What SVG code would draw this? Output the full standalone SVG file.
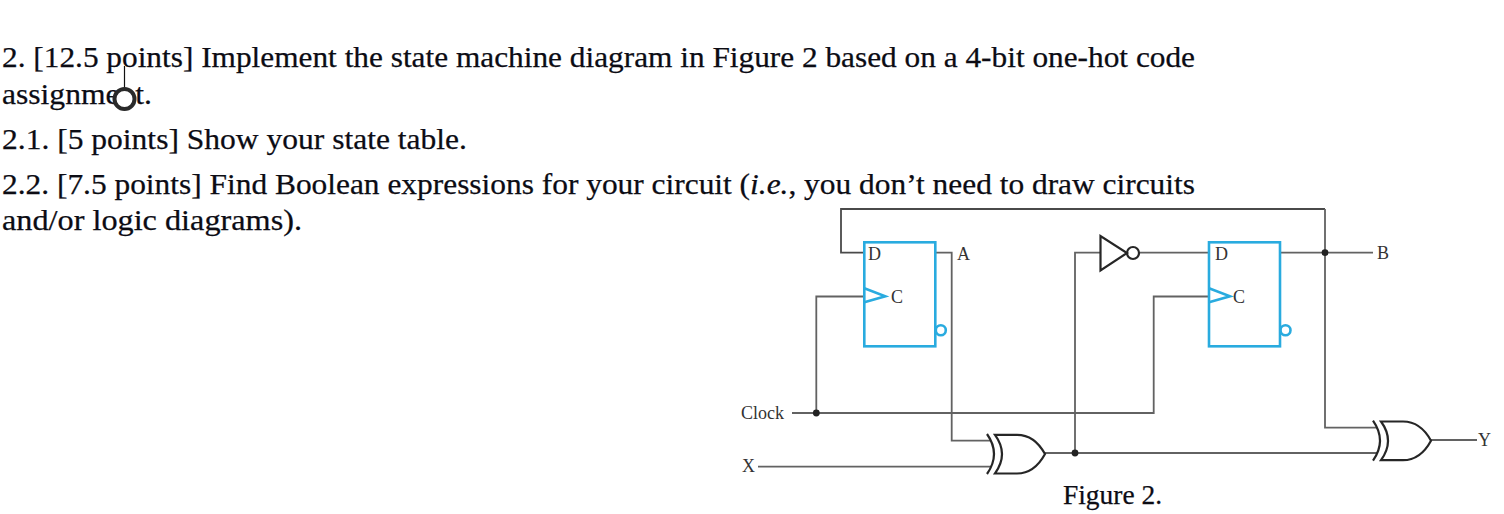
<svg xmlns="http://www.w3.org/2000/svg" width="1504" height="514" viewBox="0 0 1504 514">
<style>
.t{font-family:"Liberation Serif","Times New Roman",serif;font-size:30px;fill:#0c0c14;stroke:#0c0c14;stroke-width:.25}
.l{font-family:"Liberation Serif","Times New Roman",serif;font-size:18px;fill:#333}
.w{fill:none;stroke:#626262;stroke-width:1.8}
.ff{fill:none;stroke:#29abdf;stroke-width:2.6}
.g{fill:none;stroke:#262626;stroke-width:2.2}
.d{fill:#222;stroke:none}
</style>
<defs>
<g id="xor">
<path class="g" d="M0 0Q14 20 0 40"/>
<path class="g" d="M8 .8H30C44 .8 52 9 58 20C52 31 44 39.500 30 39.500H8Q22 20 8 .8Z"/>
</g>
<g id="ffbox">
<rect class="ff" width="71" height="104"/>
<path class="ff" d="M0 46L21 54L0 60"/>
<circle class="ff" cx="76.500" cy="88" r="5"/>
</g>
</defs>
<g id="text">
<text class="t" x="2" y="67" textLength="1193" lengthAdjust="spacingAndGlyphs">2. [12.5 points] Implement the state machine diagram in Figure 2 based on a 4-bit one-hot code</text>
<text class="t" x="2" y="104" textLength="150" lengthAdjust="spacingAndGlyphs">assignment.</text>
<text class="t" x="2" y="149" textLength="465" lengthAdjust="spacingAndGlyphs">2.1. [5 points] Show your state table.</text>
<text class="t" x="2" y="194" textLength="1193" lengthAdjust="spacingAndGlyphs">2.2. [7.5 points] Find Boolean expressions for your circuit (<tspan font-style="italic">i.e.</tspan>, you don’t need to draw circuits</text>
<text class="t" x="2" y="230" textLength="300" lengthAdjust="spacingAndGlyphs">and/or logic diagrams).</text>
<text class="t" x="1063" y="504" textLength="99" lengthAdjust="spacingAndGlyphs" style="font-size:27px">Figure 2.</text>
</g>
<g id="cursor">
<path d="M124.500 66V88" stroke="#111" stroke-width="1.200" fill="none"/>
<circle cx="124.500" cy="99" r="10" fill="#fff" stroke="#2a2a2a" stroke-width="4"/>
</g>
<g id="connectors">
<path class="w" d="M864 252.700H841V209H1325" style="stroke:#4a4a4a"/>
<path class="w" d="M935 252.700H951.700V440.700H991"/>
<path class="w" d="M792 413H1153.700V296.500H1209"/>
<path class="w" d="M816.300 413V296.500H864"/>
<path class="w" d="M758 466.700H991"/>
<path class="w" d="M1045 453H1378"/>
<path class="w" d="M1075 453V252.700H1100"/>
<path class="w" d="M1139 252.700H1209"/>
<path class="w" d="M1280 252.700H1373"/>
<path class="w" d="M1325 209V427.700H1377"/>
<path class="w" d="M1431 440H1477"/>
<circle class="d" cx="816.300" cy="413" r="3.400"/>
<circle class="d" cx="1075" cy="453" r="3.400"/>
<circle class="d" cx="1325" cy="252.700" r="3.400"/>
</g>
<g id="ff-a">
<use href="#ffbox" x="864.300" y="242.300"/>
<text class="l" x="868" y="260">D</text>
<text class="l" x="891" y="303">C</text>
</g>
<g id="ff-b">
<use href="#ffbox" x="1209" y="242.300"/>
<text class="l" x="1215" y="260">D</text>
<text class="l" x="1233" y="303">C</text>
</g>
<g id="inverter">
<path class="g" d="M1100.500 236V270.500L1127 253Z"/>
<circle class="g" cx="1133" cy="253" r="6"/>
</g>
<g id="xor-1"><use href="#xor" x="987" y="434"/></g>
<g id="xor-2"><use href="#xor" x="1373" y="420.700"/></g>
<g id="labels">
<text class="l" x="957" y="260">A</text>
<text class="l" x="1377" y="259">B</text>
<text class="l" x="741" y="419">Clock</text>
<text class="l" x="742" y="472">X</text>
<text class="l" x="1478" y="446">Y</text>
</g>
</svg>
